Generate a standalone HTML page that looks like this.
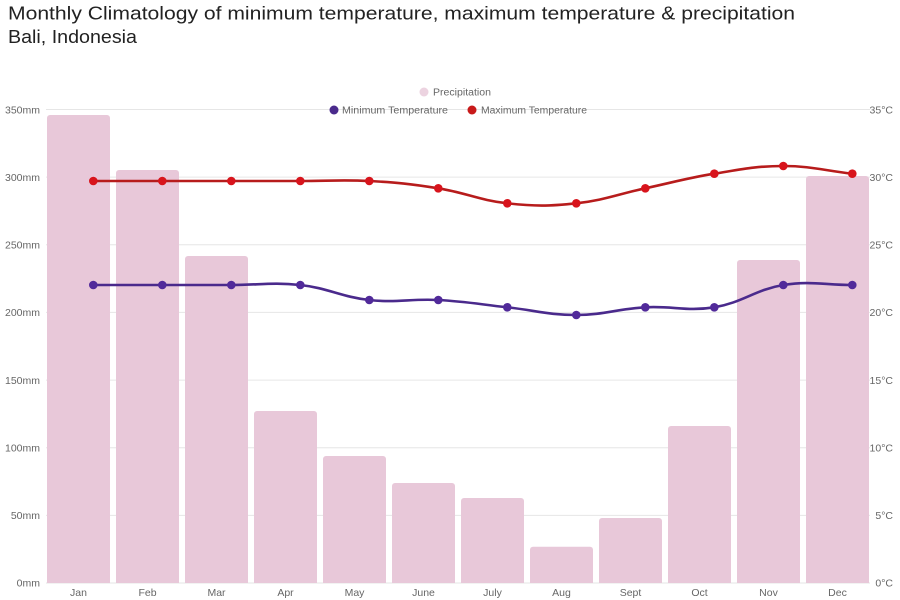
<!DOCTYPE html>
<html><head><meta charset="utf-8"><style>
html,body{margin:0;padding:0;background:#fff;}
svg{display:block;}
text{font-family:"Liberation Sans",sans-serif;}
</style></head><body>
<svg width="900" height="600" viewBox="0 0 900 600" xmlns="http://www.w3.org/2000/svg">
<rect width="900" height="600" fill="#fff"/>
<text x="8" y="19.5" font-size="18" fill="#222" textLength="787" lengthAdjust="spacingAndGlyphs">Monthly Climatology of minimum temperature, maximum temperature &amp; precipitation</text>
<text x="8" y="43" font-size="18" fill="#222" textLength="129" lengthAdjust="spacingAndGlyphs">Bali, Indonesia</text>

<g stroke="#e6e6e6" stroke-width="1">
<line x1="46" y1="109.5" x2="870" y2="109.5"/>
<line x1="46" y1="177.1" x2="870" y2="177.1"/>
<line x1="46" y1="244.8" x2="870" y2="244.8"/>
<line x1="46" y1="312.4" x2="870" y2="312.4"/>
<line x1="46" y1="380.1" x2="870" y2="380.1"/>
<line x1="46" y1="447.7" x2="870" y2="447.7"/>
<line x1="46" y1="515.4" x2="870" y2="515.4"/>
<line x1="46" y1="583" x2="870" y2="583"/>
</g>

<g fill="#e8c8d9">
<path d="M47,583 V118 a3,3 0 0 1 3,-3 H107 a3,3 0 0 1 3,3 V583 Z"/>
<path d="M116,583 V173 a3,3 0 0 1 3,-3 H176 a3,3 0 0 1 3,3 V583 Z"/>
<path d="M185,583 V259 a3,3 0 0 1 3,-3 H245 a3,3 0 0 1 3,3 V583 Z"/>
<path d="M254,583 V414 a3,3 0 0 1 3,-3 H314 a3,3 0 0 1 3,3 V583 Z"/>
<path d="M323,583 V459 a3,3 0 0 1 3,-3 H383 a3,3 0 0 1 3,3 V583 Z"/>
<path d="M392,583 V486 a3,3 0 0 1 3,-3 H452 a3,3 0 0 1 3,3 V583 Z"/>
<path d="M461,583 V501 a3,3 0 0 1 3,-3 H521 a3,3 0 0 1 3,3 V583 Z"/>
<path d="M530,583 V549.7 a3,3 0 0 1 3,-3 H590 a3,3 0 0 1 3,3 V583 Z"/>
<path d="M599,583 V521 a3,3 0 0 1 3,-3 H659 a3,3 0 0 1 3,3 V583 Z"/>
<path d="M668,583 V429 a3,3 0 0 1 3,-3 H728 a3,3 0 0 1 3,3 V583 Z"/>
<path d="M737,583 V263 a3,3 0 0 1 3,-3 H797 a3,3 0 0 1 3,3 V583 Z"/>
<path d="M806,583 V179 a3,3 0 0 1 3,-3 H866 a3,3 0 0 1 3,3 V583 Z"/>
</g>

<path fill="none" stroke="#4a2a8c" stroke-width="2.6" d="M93.3,285 C120.9,285 134.7,285 162.3,285 C189.9,285 203.7,285 231.3,285 C258.9,285 272.7,282 300.3,285 C327.9,288 341.7,297 369.3,300 C396.9,303 410.7,298.54 438.3,300 C465.9,301.46 479.7,304.3 507.3,307.3 C534.9,310.3 548.7,315 576.3,315 C603.9,315 617.7,308.84 645.3,307.3 C672.9,305.76 686.7,311.76 714.3,307.3 C741.9,302.84 755.7,289.46 783.3,285 C810.9,280.54 824.7,285 852.3,285"/>
<path fill="none" stroke="#b71c1c" stroke-width="2.6" d="M93.3,181 C120.9,181 134.7,181 162.3,181 C189.9,181 203.7,181 231.3,181 C258.9,181 272.7,181 300.3,181 C327.9,181 341.7,179.54 369.3,181 C396.9,182.46 410.7,183.84 438.3,188.3 C465.9,192.76 479.7,200.3 507.3,203.3 C534.9,206.3 548.7,206.3 576.3,203.3 C603.9,200.3 617.7,194.22 645.3,188.3 C672.9,182.38 686.7,178.16 714.3,173.7 C741.9,169.24 755.7,166 783.3,166 C810.9,166 824.7,170.62 852.3,173.7"/>

<g fill="#512a9a">
<circle cx="93.3" cy="285" r="4.3"/><circle cx="162.3" cy="285" r="4.3"/><circle cx="231.3" cy="285" r="4.3"/><circle cx="300.3" cy="285" r="4.3"/><circle cx="369.3" cy="300" r="4.3"/><circle cx="438.3" cy="300" r="4.3"/><circle cx="507.3" cy="307.3" r="4.3"/><circle cx="576.3" cy="315" r="4.3"/><circle cx="645.3" cy="307.3" r="4.3"/><circle cx="714.3" cy="307.3" r="4.3"/><circle cx="783.3" cy="285" r="4.3"/><circle cx="852.3" cy="285" r="4.3"/>
</g>
<g fill="#d8141c">
<circle cx="93.3" cy="181" r="4.3"/><circle cx="162.3" cy="181" r="4.3"/><circle cx="231.3" cy="181" r="4.3"/><circle cx="300.3" cy="181" r="4.3"/><circle cx="369.3" cy="181" r="4.3"/><circle cx="438.3" cy="188.3" r="4.3"/><circle cx="507.3" cy="203.3" r="4.3"/><circle cx="576.3" cy="203.3" r="4.3"/><circle cx="645.3" cy="188.3" r="4.3"/><circle cx="714.3" cy="173.7" r="4.3"/><circle cx="783.3" cy="166" r="4.3"/><circle cx="852.3" cy="173.7" r="4.3"/>
</g>

<g font-size="10.5" fill="#666" text-anchor="end">
<text x="40" y="113.5">350mm</text>
<text x="40" y="181">300mm</text>
<text x="40" y="248.5">250mm</text>
<text x="40" y="316">200mm</text>
<text x="40" y="384">150mm</text>
<text x="40" y="451.5">100mm</text>
<text x="40" y="519">50mm</text>
<text x="40" y="586.5">0mm</text>
<text x="893" y="113.5">35°C</text>
<text x="893" y="181">30°C</text>
<text x="893" y="248.5">25°C</text>
<text x="893" y="316">20°C</text>
<text x="893" y="384">15°C</text>
<text x="893" y="451.5">10°C</text>
<text x="893" y="519">5°C</text>
<text x="893" y="586.5">0°C</text>
</g>

<g font-size="10.5" fill="#666" text-anchor="middle">
<text x="78.5" y="596">Jan</text>
<text x="147.5" y="596">Feb</text>
<text x="216.5" y="596">Mar</text>
<text x="285.5" y="596">Apr</text>
<text x="354.5" y="596">May</text>
<text x="423.5" y="596">June</text>
<text x="492.5" y="596">July</text>
<text x="561.5" y="596">Aug</text>
<text x="630.5" y="596">Sept</text>
<text x="699.5" y="596">Oct</text>
<text x="768.5" y="596">Nov</text>
<text x="837.5" y="596">Dec</text>
</g>

<circle cx="424" cy="92" r="4.5" fill="#ecd3e0"/>
<text x="433" y="95.5" font-size="10" fill="#666" textLength="58" lengthAdjust="spacingAndGlyphs">Precipitation</text>
<circle cx="334" cy="110" r="4.5" fill="#4a2a8c"/>
<text x="342" y="113.5" font-size="10" fill="#666" textLength="106" lengthAdjust="spacingAndGlyphs">Minimum Temperature</text>
<circle cx="472" cy="110" r="4.5" fill="#c81a1a"/>
<text x="481" y="113.5" font-size="10" fill="#666" textLength="106" lengthAdjust="spacingAndGlyphs">Maximum Temperature</text>
</svg>
</body></html>
